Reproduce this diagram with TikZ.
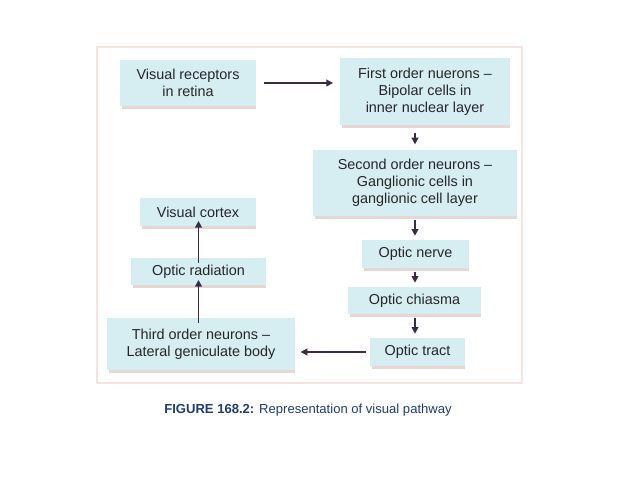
\documentclass[tikz,border=0pt]{standalone}
\usepackage{fontspec}
\setmainfont{Liberation Sans}
\usetikzlibrary{arrows.meta}
\definecolor{boxc}{HTML}{D6EDF2}
\definecolor{shad}{HTML}{E6D6D4}
\definecolor{arr}{HTML}{3A2A48}
\definecolor{frm}{HTML}{F6E2DE}
\definecolor{capc}{HTML}{1E3C78}
\begin{document}
\begin{tikzpicture}[x=0.75pt,y=-0.75pt,
  box/.style={fill=boxc,align=center,font=\fontsize{10.8}{12.8}\selectfont,text=black!85,inner sep=0pt},
  ar/.style={draw=arr,line width=1.3pt,-{Triangle[length=5pt,width=5pt]}}]
\useasboundingbox (0,0) rectangle (638,478);
\draw[frm,line width=1.2pt] (97,47) rectangle (522,383);
\newcommand{\bx}[6]{% name, x1,y1,x2,y2, text
  \fill[shad] (#2+2,#5) rectangle (#4,#5+3);
  \node[box,minimum width={(#4-#2)*0.75pt},minimum height={(#5-#3)*0.75pt}] (#1) at ({(#2+#4)/2},{(#3+#5)/2}) {#6};}
\bx{vr}{120}{60}{256}{106}{Visual receptors\\in retina}
\bx{fo}{340}{58}{510}{125}{First order nuerons –\\Bipolar cells in\\inner nuclear layer}
\bx{so}{313}{150}{517}{216}{Second order neurons –\\Ganglionic cells in\\ganglionic cell layer}
\bx{on}{362}{240}{469}{268}{Optic nerve}
\bx{oc}{348}{287}{481}{314}{Optic chiasma}
\bx{ot}{370}{338}{465}{366}{Optic tract}
\bx{to}{107}{318}{295}{370}{Third order neurons –\\Lateral geniculate body}
\bx{or}{131}{258}{266}{285}{Optic radiation}
\bx{vc}{140}{198}{256}{226}{Visual cortex}
\draw[ar] ([xshift=6pt]vr.east) -- ([xshift=-5pt]vr.east -| fo.west);
\draw[ar] ([yshift=-6pt]fo.south -| so.north) -- ([yshift=4pt]so.north);
\draw[ar] ([yshift=-3pt]so.south) -- ([yshift=3pt]so.south |- on.north);
\draw[ar] ([yshift=-3pt]so.south |- on.south) -- ([yshift=3pt]so.south |- oc.north);
\draw[ar] ([yshift=-3pt]so.south |- oc.south) -- ([yshift=3pt]so.south |- ot.north);
\draw[ar] ([xshift=-3pt]ot.west) -- ([xshift=4pt]ot.west -| to.east);
\draw[ar] ([yshift=-4pt]to.north -| or.south) -- ([yshift=4pt]or.south);
\draw[ar] ([yshift=-4pt]or.north) -- ([yshift=4pt]or.north |- vc.south);
\node[font=\fontsize{9.8}{11}\selectfont,text=capc] (cap) at (308,410) {\textbf{FIGURE 168.2:} Representation of visual pathway};
\end{tikzpicture}
\end{document}
